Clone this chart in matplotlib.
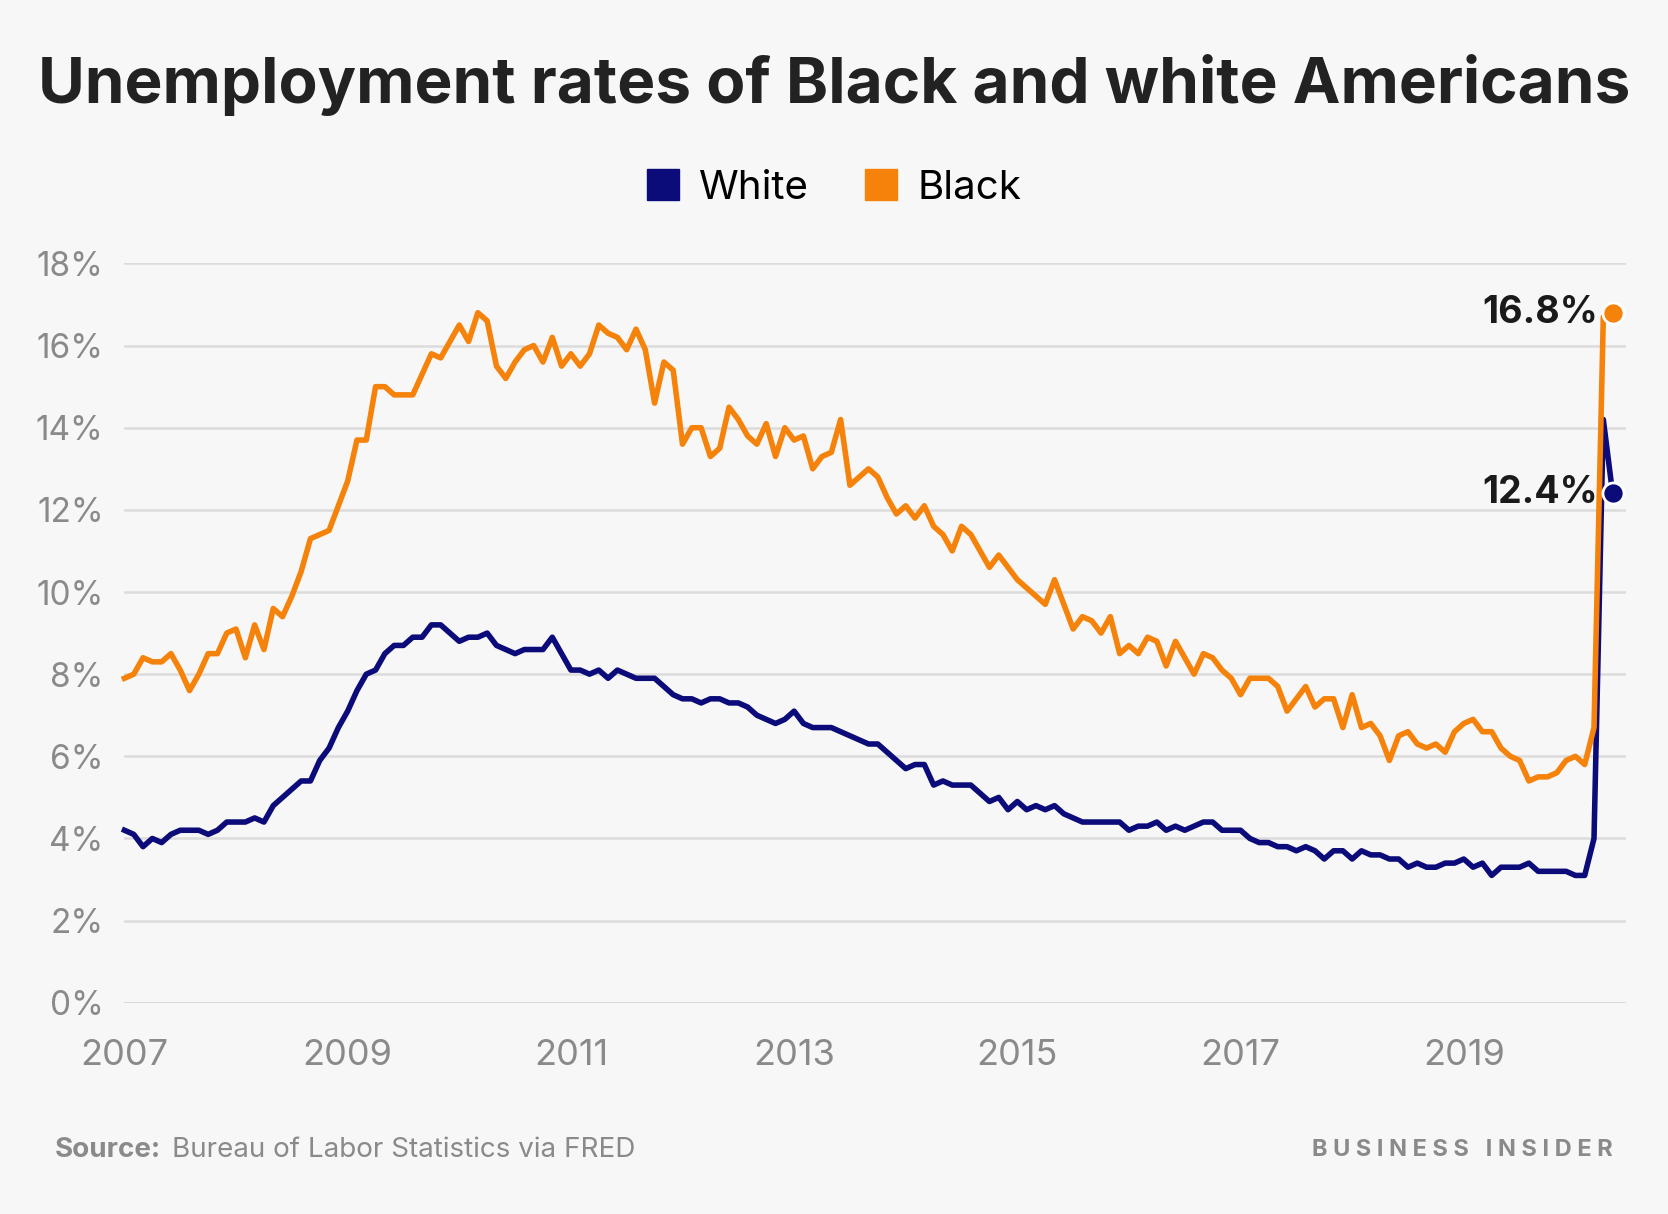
import numpy as np
import pandas as pd
import matplotlib.pyplot as plt

# datos mensuales ene 2007 - may 2020
white = [4.2,4.1,3.8,4.0,3.9,4.1,4.2,4.2,4.2,4.1,4.2,4.4,
         4.4,4.4,4.5,4.4,4.8,5.0,5.2,5.4,5.4,5.9,6.2,6.7,
         7.1,7.6,8.0,8.1,8.5,8.7,8.7,8.9,8.9,9.2,9.2,9.0,
         8.8,8.9,8.9,9.0,8.7,8.6,8.5,8.6,8.6,8.6,8.9,8.5,
         8.1,8.1,8.0,8.1,7.9,8.1,8.0,7.9,7.9,7.9,7.7,7.5,
         7.4,7.4,7.3,7.4,7.4,7.3,7.3,7.2,7.0,6.9,6.8,6.9,
         7.1,6.8,6.7,6.7,6.7,6.6,6.5,6.4,6.3,6.3,6.1,5.9,
         5.7,5.8,5.8,5.3,5.4,5.3,5.3,5.3,5.1,4.9,5.0,4.7,
         4.9,4.7,4.8,4.7,4.8,4.6,4.5,4.4,4.4,4.4,4.4,4.4,
         4.2,4.3,4.3,4.4,4.2,4.3,4.2,4.3,4.4,4.4,4.2,4.2,
         4.2,4.0,3.9,3.9,3.8,3.8,3.7,3.8,3.7,3.5,3.7,3.7,
         3.5,3.7,3.6,3.6,3.5,3.5,3.3,3.4,3.3,3.3,3.4,3.4,
         3.5,3.3,3.4,3.1,3.3,3.3,3.3,3.4,3.2,3.2,3.2,3.2,
         3.1,3.1,4.0,14.2,12.4]
black = [7.9,8.0,8.4,8.3,8.3,8.5,8.1,7.6,8.0,8.5,8.5,9.0,
         9.1,8.4,9.2,8.6,9.6,9.4,9.9,10.5,11.3,11.4,11.5,12.1,
         12.7,13.7,13.7,15.0,15.0,14.8,14.8,14.8,15.3,15.8,15.7,16.1,
         16.5,16.1,16.8,16.6,15.5,15.2,15.6,15.9,16.0,15.6,16.2,15.5,
         15.8,15.5,15.8,16.5,16.3,16.2,15.9,16.4,15.9,14.6,15.6,15.4,
         13.6,14.0,14.0,13.3,13.5,14.5,14.2,13.8,13.6,14.1,13.3,14.0,
         13.7,13.8,13.0,13.3,13.4,14.2,12.6,12.8,13.0,12.8,12.3,11.9,
         12.1,11.8,12.1,11.6,11.4,11.0,11.6,11.4,11.0,10.6,10.9,10.6,
         10.3,10.1,9.9,9.7,10.3,9.7,9.1,9.4,9.3,9.0,9.4,8.5,
         8.7,8.5,8.9,8.8,8.2,8.8,8.4,8.0,8.5,8.4,8.1,7.9,
         7.5,7.9,7.9,7.9,7.7,7.1,7.4,7.7,7.2,7.4,7.4,6.7,
         7.5,6.7,6.8,6.5,5.9,6.5,6.6,6.3,6.2,6.3,6.1,6.6,
         6.8,6.9,6.6,6.6,6.2,6.0,5.9,5.4,5.5,5.5,5.6,5.9,
         6.0,5.8,6.7,16.7,16.8]
x = 2007 + np.arange(len(white)) / 12

years = [2007, 2009, 2011, 2013, 2015, 2017, 2019]
yticks = [0, 2, 4, 6, 8, 10, 12, 14, 16, 18]

azul = '#0b0b7a'
naranja = '#f5820a'
gris = '#8a8a8a'
fondo = '#f7f7f7'

plt.rcParams['font.family'] = ['Inter', 'DejaVu Sans']
fig = plt.figure(figsize=(16.68, 12.14), dpi=100, facecolor=fondo)
ax = fig.add_axes([0.0746, 0.174, 0.9, 0.609])
ax.set_facecolor(fondo)

ax.plot(x, white, color=azul, lw=4, solid_joinstyle='round', clip_on=False)
ax.plot(x, black, color=naranja, lw=4, solid_joinstyle='round', clip_on=False)
ax.scatter([x[-1]], [black[-1]], s=230, color=naranja, edgecolor='white', lw=2, zorder=5, clip_on=False)
ax.scatter([x[-1]], [white[-1]], s=230, color=azul, edgecolor='white', lw=2, zorder=5, clip_on=False)
ax.text(x[-1] - 0.13, black[-1], '16.8%', ha='right', va='center', fontsize=27, fontweight='bold', color='#1a1a1a')
ax.text(x[-1] - 0.13, white[-1], '12.4%', ha='right', va='center', fontsize=27, fontweight='bold', color='#1a1a1a')

ax.set_xlim(2007, 2020.45)
ax.set_ylim(0, 18)
ax.set_yticks(yticks)
ax.set_yticklabels([f'{v}%' for v in yticks], fontsize=24, color=gris)
ax.set_xticks(years)
ax.set_xticklabels([str(y) for y in years], fontsize=26, color=gris)
ax.tick_params(axis='y', length=0, pad=15)
ax.tick_params(axis='x', length=0, pad=26)
ax.grid(axis='y', color='#dcdcdc', lw=1.8)
ax.set_axisbelow(True)
for s in ax.spines.values():
    s.set_visible(False)
ax.axhline(0, color='#cfcfcf', lw=2, zorder=0)

fig.text(0.5, 0.93, 'Unemployment rates of Black and white Americans', ha='center', va='center',
         fontsize=46, fontweight='bold', color='#222222')
fig.legend(handles=[plt.Rectangle((0, 0), 1, 1, color=azul), plt.Rectangle((0, 0), 1, 1, color=naranja)],
           labels=['White', 'Black'], loc='center', bbox_to_anchor=(0.5, 0.845), ncol=2, frameon=False,
           fontsize=29, handlelength=0.8, handleheight=0.8, columnspacing=1.4, handletextpad=0.5)
fig.text(0.033, 0.053, 'Source:', fontsize=20, fontweight='bold', color=gris, va='center')
fig.text(0.103, 0.053, 'Bureau of Labor Statistics via FRED', fontsize=20, color=gris, va='center')
fig.text(0.967, 0.053, 'B U S I N E S S   I N S I D E R', fontsize=17, fontweight='bold', color=gris, ha='right', va='center')

plt.savefig('out.png', dpi=100, facecolor=fondo)
